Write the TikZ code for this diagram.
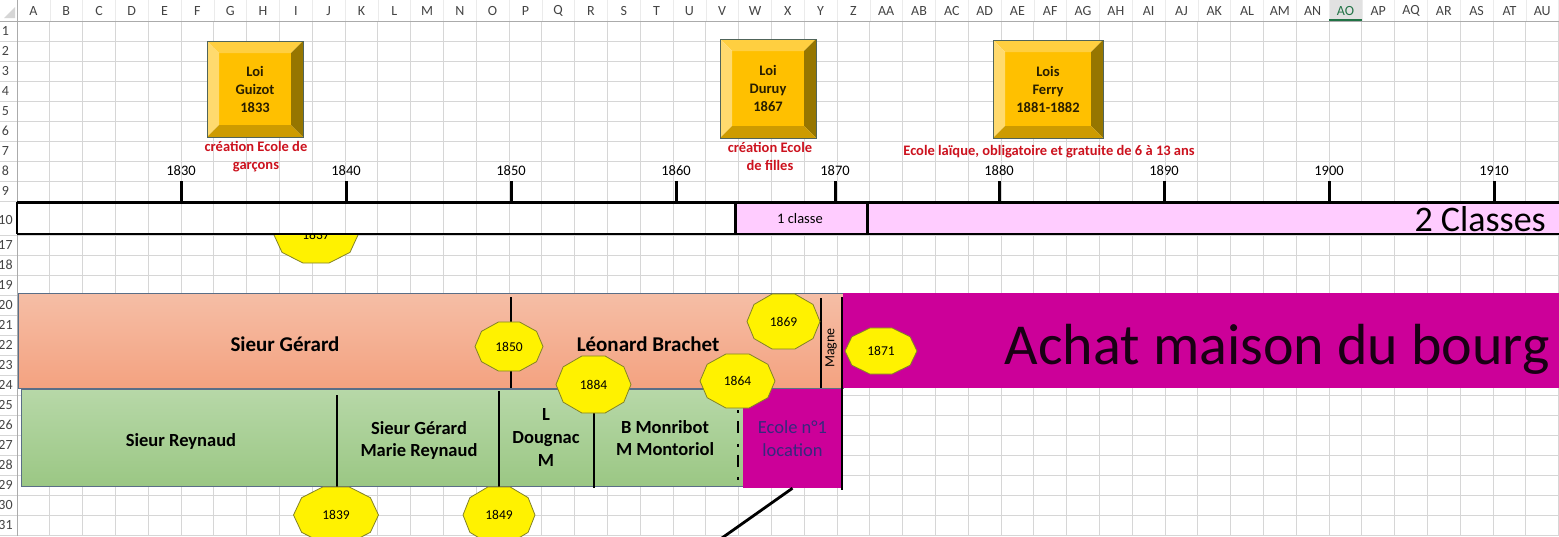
\documentclass[tikz,border=0pt]{standalone}
\usepackage{fontspec}
\setmainfont{Carlito}
\usetikzlibrary{calc}

\definecolor{gridgray}{RGB}{214,214,214}
\definecolor{hdredge}{RGB}{171,171,171}
\definecolor{hdrtext}{RGB}{68,68,68}
\definecolor{selgray}{RGB}{225,225,225}
\definecolor{selgreen}{RGB}{33,115,70}
\definecolor{goldin}{RGB}{255,192,0}
\definecolor{goldtop}{RGB}{255,207,64}
\definecolor{goldleft}{RGB}{255,218,110}
\definecolor{goldright}{RGB}{150,118,0}
\definecolor{goldbot}{RGB}{205,155,0}
\definecolor{goldedge}{RGB}{80,100,90}
\definecolor{loired}{RGB}{204,18,30}
\definecolor{classpink}{RGB}{255,204,255}
\definecolor{saumonA}{RGB}{245,190,166}
\definecolor{saumonB}{RGB}{244,162,128}
\definecolor{vertA}{RGB}{183,216,168}
\definecolor{vertB}{RGB}{155,199,132}
\definecolor{bandedge}{RGB}{90,110,135}
\definecolor{bourg}{RGB}{204,0,153}
\definecolor{decaedge}{RGB}{130,130,40}
\definecolor{ecoletxt}{RGB}{55,40,125}

\begin{document}
\begin{tikzpicture}[x=1pt,y=-1pt,
  every node/.style={inner sep=0pt},
  gridline/.style={draw=gridgray,line width=0.8pt},
  hdr/.style={text=hdrtext,font=\fontsize{14}{16}\selectfont},
  lawtxt/.style={text={rgb,255:red,40;green,30;blue,0},align=center,font=\bfseries\fontsize{14.5}{18}\selectfont},
  redtxt/.style={text=loired,align=center,font=\bfseries\fontsize{14.5}{18}\selectfont},
  yearlbl/.style={font=\fontsize{14.5}{16}\selectfont},
  tick/.style={line width=3pt},
  deca/.style={fill=yellow,draw=decaedge,line width=0.8pt},
  decatxt/.style={font=\fontsize{13.5}{15}\selectfont},
  divline/.style={line width=2.8pt},
  bandtop/.style={font=\bfseries\fontsize{21}{24}\selectfont},
  bandbot/.style={align=center,font=\bfseries\fontsize{18.5}{22.8}\selectfont},
  ecolebox/.style={fill=bourg,minimum width=99pt,minimum height=99pt,text=ecoletxt,align=center,font=\fontsize{18.5}{23}\selectfont}]

  \useasboundingbox (0,0) rectangle (1559,536);
  \clip (0,0) rectangle (1559,536);
  \fill[white] (0,0) rectangle (1559,536);

  % la grille de la feuille
  \foreach \i in {0,...,47}
    \draw[gridline] (17+32.8*\i,21) -- (17+32.8*\i,536);
  \foreach \yy in {41,61,...,201}
    \draw[gridline] (0,\yy) -- (1559,\yy);
  \foreach \yy in {235,255,...,535}
    \draw[gridline] (0,\yy) -- (1559,\yy);

  % en-tetes de colonnes et de lignes
  \fill[selgray] (17+32.8*40,0) rectangle (17+32.8*41,21);
  \foreach \i in {0,...,47}
    \draw[gridgray!50] (17+32.8*\i,0) -- (17+32.8*\i,21);
  \draw[hdredge,line width=0.8pt] (0,21) -- (1559,21);
  \draw[hdredge,line width=0.8pt] (17,0) -- (17,536);
  \draw[selgreen,line width=2pt] (17+32.8*40,20) -- (17+32.8*41,20);
  \fill[gridgray] (4,18) -- (15,18) -- (15,7) -- cycle;
  \foreach \c [count=\i from 0] in {A,B,C,D,E,F,G,H,I,J,K,L,M,N,O,P,Q,R,S,T,U,V,W,X,Y,Z,AA,AB,AC,AD,AE,AF,AG,AH,AI,AJ,AK,AL,AM,AN}
    \node[hdr] (col\c) at (33.4+32.8*\i,11) {\c};
  \node[text=selgreen,font=\fontsize{14}{16}\selectfont] (colAO) at (33.4+32.8*40,11) {AO};
  \foreach \c [count=\i from 41] in {AP,AQ,AR,AS,AT,AU}
    \node[hdr] (col\c) at (33.4+32.8*\i,11) {\c};
  \foreach \r [count=\i from 0] in {1,...,9}
    \node[hdr] (row\r) at (5.5,31+20*\i) {\r};
  \node[hdr] (row10) at (5.5,220) {10};
  \foreach \r [count=\i from 0] in {17,...,31}
    \node[hdr] (row\r) at (5.5,245+20*\i) {\r};

  % les lois (boutons biseautes)
  \foreach \nm/\xa/\ya/\xb/\yb/\txt in {guizot/207/41/303/137/{Loi\\Guizot\\1833},
      duruy/720/39/816/138/{Loi\\Duruy\\1867},
      ferry/993/40/1103/138/{Lois\\Ferry\\1881-1882}}{
    \fill[goldin] (\xa+12,\ya+12) rectangle (\xb-12,\yb-12);
    \fill[goldtop] (\xa,\ya) -- (\xb,\ya) -- (\xb-12,\ya+12) -- (\xa+12,\ya+12) -- cycle;
    \fill[goldleft] (\xa,\ya) -- (\xa+12,\ya+12) -- (\xa+12,\yb-12) -- (\xa,\yb) -- cycle;
    \fill[goldright] (\xb,\ya) -- (\xb,\yb) -- (\xb-12,\yb-12) -- (\xb-12,\ya+12) -- cycle;
    \fill[goldbot] (\xa,\yb) -- (\xb,\yb) -- (\xb-12,\yb-12) -- (\xa+12,\yb-12) -- cycle;
    \draw[goldedge,line width=0.8pt] (\xa,\ya) rectangle (\xb,\yb);
    \node[lawtxt] (\nm) at ({(\xa+\xb)/2},{(\ya+\yb)/2}) {\txt};
  }

  % ce que disent les lois
  \node[redtxt] (rgarcons) at (256,157) {création Ecole de\\garçons};
  \node[redtxt] (rfilles) at (770,156.5) {création Ecole\\de filles};
  \node[redtxt] (rferry) at (1049,152) {Ecole laïque, obligatoire et gratuite de 6 à 13 ans};

  % axe des annees
  \foreach \yr/\xx in {1830/181,1840/346,1850/511,1860/676,1870/835,1880/999,1890/1164,1900/1329,1910/1494}{
    \draw[tick] (\xx,181) -- (\xx,203);
    \node[yearlbl] (y\yr) at (\xx,171) {\yr};
  }

  % bande des classes
  \fill[classpink] (735,202) rectangle (1559,234);
  \draw[line width=3pt] (17,202) -- (1559,202);
  \draw[line width=2pt] (17,234) -- (1559,234);
  \draw[line width=2pt] (17,202) -- (17,234);
  \draw[line width=3pt] (735,202) -- (735,234);
  \draw[line width=3pt] (867,202) -- (867,234);
  \node[font=\fontsize{14.5}{16}\selectfont] (classe1) at (800,219) {1 classe};
  \node[font=\fontsize{36}{40}\selectfont,anchor=base east] (classes2) at (1546,231) {2 Classes};

  % 1837, a moitie cache par les lignes masquees
  \begin{scope}
    \clip (0,235) rectangle (1559,536);
    \filldraw[deca] (316,235) +(42,0) \foreach \a in {36,72,...,324}{ -- +({42*cos(\a)},{29.5*sin(\a)}) } -- cycle;
    \node[decatxt] (d1837) at (316,235) {1837};
  \end{scope}

  % proprietaires
  \shadedraw[top color=saumonA,bottom color=saumonB,draw=bandedge,line width=0.8pt] (18,293) rectangle (843,388);
  \shadedraw[top color=vertA,bottom color=vertB,draw=bandedge,line width=0.8pt] (21,389) rectangle (842,486);
  \fill[bourg] (843,293) rectangle (1559,388);
  \node[ecolebox] (ecole) at (792.5,438.5) {Ecole n°1\\location};

  % separations
  \draw[divline] (511,297) -- (511,388);
  \draw[divline] (821,298) -- (821,388);
  \draw[divline] (842,297) -- (842,490);
  \draw[divline] (337,395) -- (337,490);
  \draw[divline] (499,391) -- (499,490);
  \draw[divline] (594,400) -- (594,488);
  \draw[divline,dash pattern=on 3pt off 8pt on 12pt off 10.5pt] (738,410) -- (738,481);
  \coordinate (bas) at (712,545);
  \draw[divline] (ecole.south) -- (bas);

  % les dates
  \foreach \yr/\cx/\cy/\rx/\ry in {1839/336/515/42.5/29.5, 1849/499/515/36/29.5, 1850/509/346.5/34/25.8,
      1869/783.5/321.5/36.5/29, 1864/737.5/381/37.5/28.4, 1884/593.5/384.5/37.5/30, 1871/881/351/36/24.2}{
    \filldraw[deca] (\cx,\cy) +(\rx,0) \foreach \a in {36,72,...,324}{ -- +({\rx*cos(\a)},{\ry*sin(\a)}) } -- cycle;
    \node[decatxt] (d\yr) at (\cx,\cy) {\yr};
  }

  \node[bandtop] (sgerard) at (285,344) {Sieur Gérard};
  \node[bandtop] (lbrachet) at (648,344) {Léonard Brachet};
  \node[bandbot] (sreynaud) at (181,441) {Sieur Reynaud};
  \node[bandbot] (sgmr) at (419,440.5) {Sieur Gérard\\Marie Reynaud};
  \node[bandbot] (ldm) at (546,437.5) {L\\Dougnac\\M};
  \node[bandbot] (bmmm) at (665,438) {B Monribot\\M Montoriol};
  \node[font=\fontsize{14}{16}\selectfont,rotate=90] (magne) at (831,348) {Magne};
  \node[font=\fontsize{58}{62}\selectfont,text={rgb,255:red,25;green,0;blue,20},anchor=base east] (achat) at (1550,364) {Achat maison du bourg};
\end{tikzpicture}
\end{document}
